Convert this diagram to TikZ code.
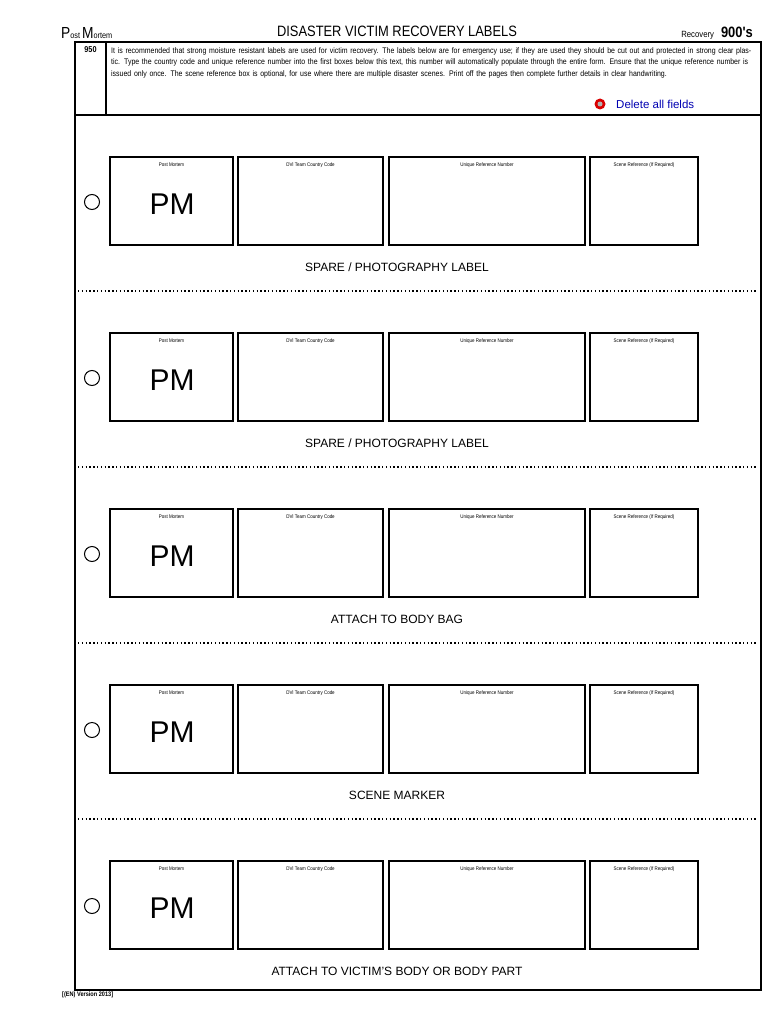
\documentclass[tikz,border=0pt]{standalone}
\usepackage{fontspec}
\setmainfont{Liberation Sans}
\newfontfamily\narrowfont[FakeStretch=0.86]{Liberation Sans}
\begin{document}
\begin{tikzpicture}[x=1pt,y=-1pt,
  fbox/.style={draw,line width=1.2pt},
  boxcap/.style={font=\narrowfont\fontsize{5.2}{6}\selectfont,anchor=north},
  ttl/.style={font=\fontsize{12}{14}\selectfont},
]
\useasboundingbox (0,0) rectangle (768,1024);
\fill[white] (0,0) rectangle (768,1024);
% header
\node[anchor=base west,inner sep=0] (pm) at (61,39) {\narrowfont\fontsize{16}{16}\selectfont P\fontsize{8.5}{9}\selectfont ost \fontsize{16}{16}\selectfont M\fontsize{8.5}{9}\selectfont ortem};
\node[anchor=base,inner sep=0] (title) at (397,37) {\narrowfont\fontsize{15}{16}\selectfont DISASTER VICTIM RECOVERY LABELS};
\node[anchor=base east,inner sep=0] (rec) at (753,38) {\narrowfont\fontsize{9}{9}\selectfont Recovery\hspace{7pt}\fontsize{15}{16}\selectfont\bfseries 900's};
% frame
\draw[line width=1.5pt] (75,42) rectangle (761,990);
\draw[line width=1.5pt] (106,42) -- (106,115);
\draw[line width=1.5pt] (75,115) -- (761,115);
\node[anchor=north,inner sep=0,font=\narrowfont\fontsize{8.5}{9}\selectfont\bfseries] (num) at (90.5,46) {950};
\node[anchor=north west,inner sep=0,text width=643pt,align=left,font=\narrowfont\fontsize{8.1}{11.4}\selectfont] (para) at (111,47.5)
{It is recommended that strong moisture resistant labels are used for victim recovery. The labels below are for emergency use; if they are used they should be cut out and protected in strong clear plastic. Type the country code and unique reference number into the first boxes below this text, this number will automatically populate through the entire form. Ensure that the unique reference number is issued only once. The scene reference box is optional, for use where there are multiple disaster scenes. Print off the pages then complete further details in clear handwriting.};
\node[circle,fill=red!85!black,minimum size=11pt,inner sep=0] (del) at (600,104) {};
\node[circle,fill=gray!60,minimum size=5pt,inner sep=0] at (del) {};
\node[anchor=west,inner sep=0,text=blue!70!black,font=\fontsize{11.5}{12}\selectfont] (deltext) at (616,104) {Delete all fields};
% rows
\foreach \i/\t in {0/{SPARE / PHOTOGRAPHY LABEL},1/{SPARE / PHOTOGRAPHY LABEL},2/{ATTACH TO BODY BAG},3/{SCENE MARKER},4/{ATTACH TO VICTIM'S BODY OR BODY PART}}{
  \pgfmathsetmacro{\yy}{157+176*\i}
  \node[draw,circle,line width=1pt,minimum size=15pt,inner sep=0] (c\i) at (92,\yy+45) {};
  \draw[fbox] (110,\yy) rectangle (233,\yy+88);
  \draw[fbox] (238,\yy) rectangle (383,\yy+88);
  \draw[fbox] (389,\yy) rectangle (585,\yy+88);
  \draw[fbox] (590,\yy) rectangle (698,\yy+88);
  \node[boxcap] (a\i) at (171.5,\yy+2.5) {Post Mortem};
  \node[boxcap] (b\i) at (310.5,\yy+2.5) {DVI Team Country Code};
  \node[boxcap] (u\i) at (487,\yy+2.5) {Unique Reference Number};
  \node[boxcap] (s\i) at (644,\yy+2.5) {Scene Reference (If Required)};
  \node[font=\fontsize{30}{32}\selectfont] (p\i) at (172,\yy+47) {PM};
  \node[ttl] (t\i) at (397,\yy+110) {\t};
}
\foreach \i in {0,...,3}{
  \pgfmathsetmacro{\yy}{291+176*\i}
  \draw[line width=1.4pt,dash pattern=on 1.4pt off 2.4pt] (78,\yy) -- (758,\yy);
}
\node[anchor=north west,inner sep=0,font=\narrowfont\fontsize{6.5}{7}\selectfont\bfseries] (foot) at (62,992) {[(EN) Version 2013]};
\end{tikzpicture}
\end{document}
